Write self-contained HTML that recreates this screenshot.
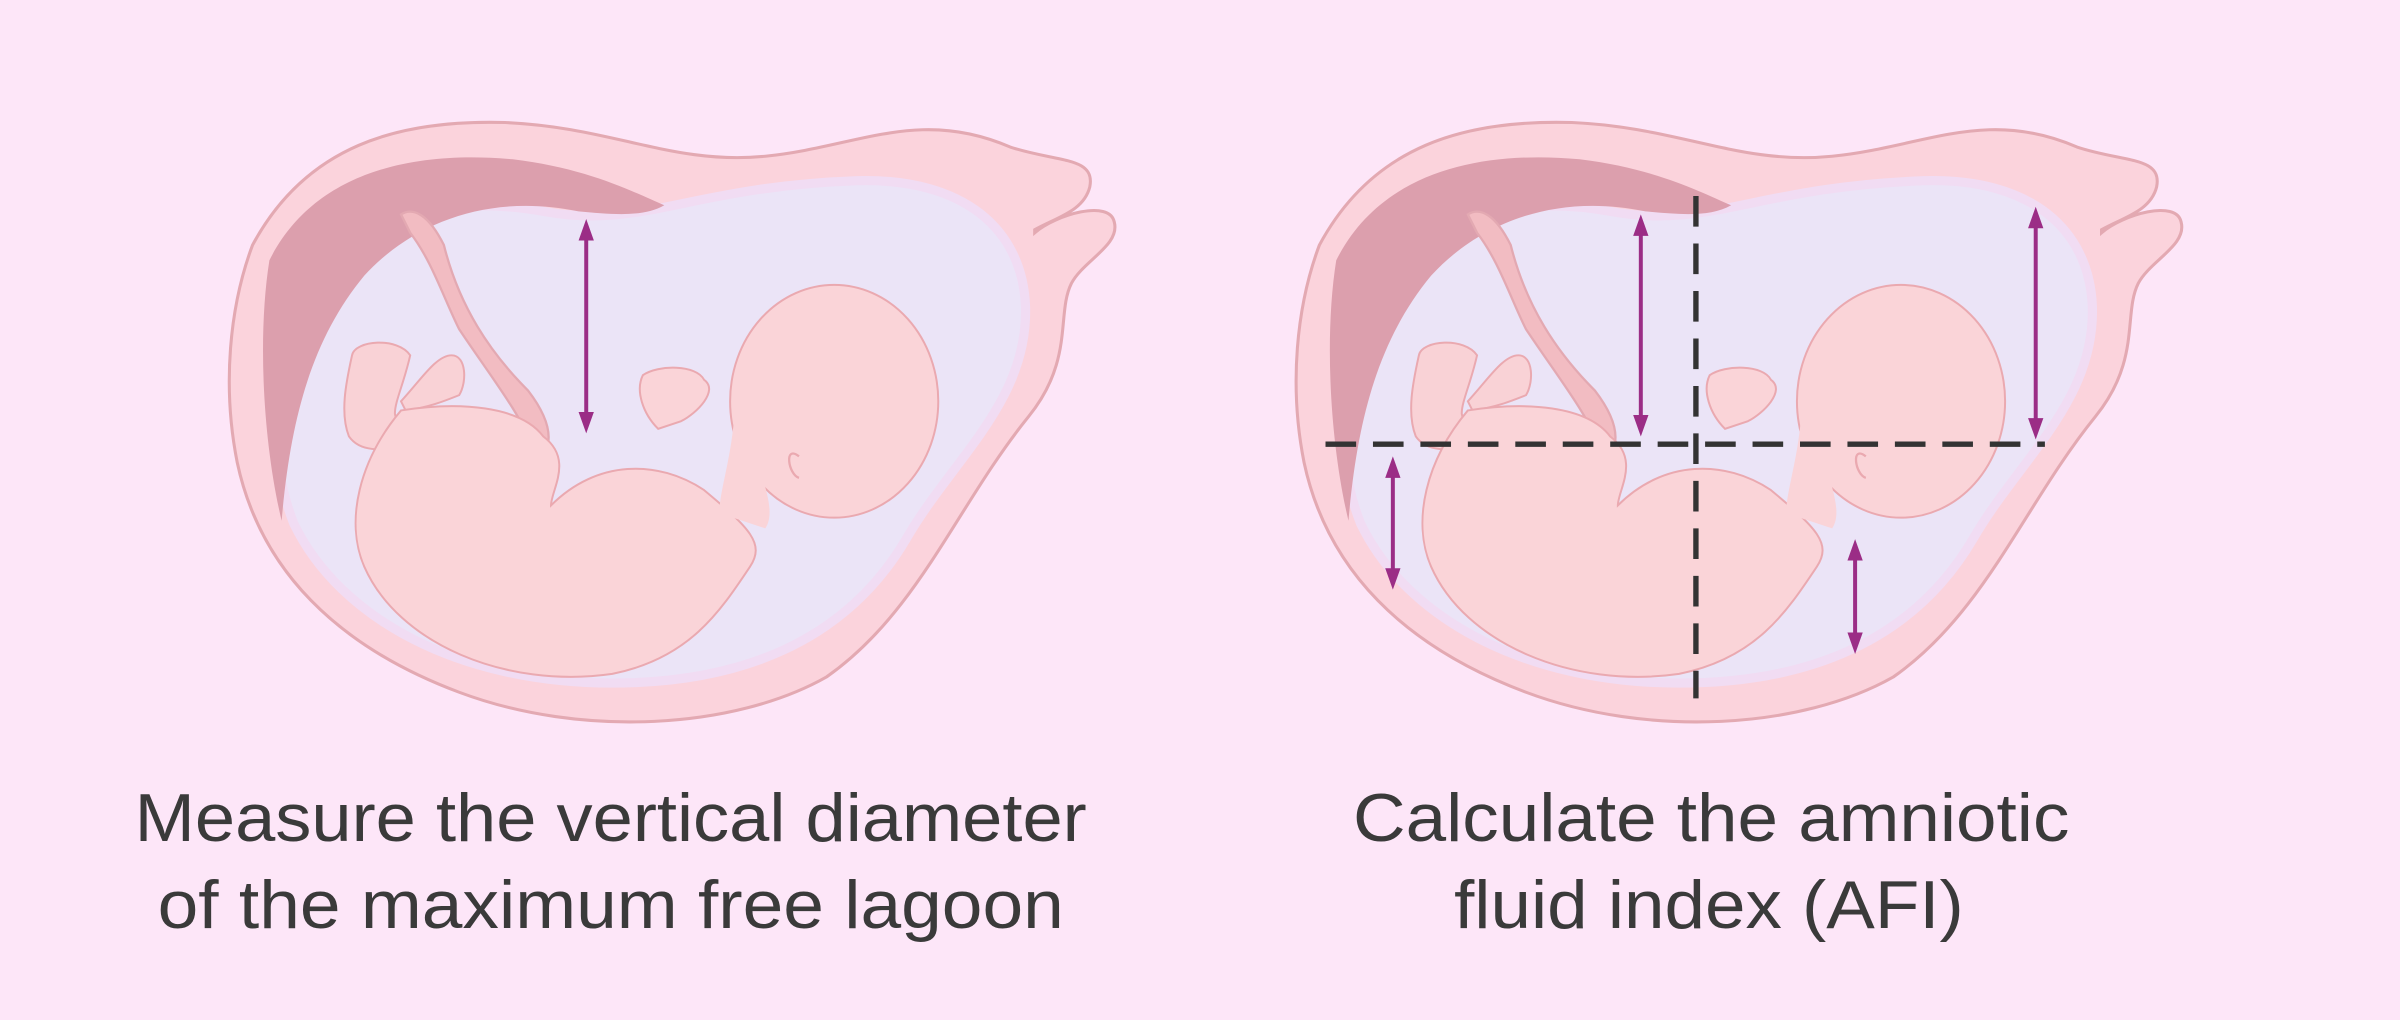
<!DOCTYPE html>
<html><head><meta charset="utf-8"><style>
html,body{margin:0;padding:0;background:#fde6f8;}
svg{display:block}
</style></head><body>
<svg width="2400" height="1020" viewBox="0 0 1568 666" preserveAspectRatio="none" xmlns="http://www.w3.org/2000/svg">
<defs>
<g id="ill">
  <path d="M165,160 C200,95 260,78 330,80 C400,83 440,108 500,102 C560,96 600,70 660,96 C690,106 716,102 712,122 C708,138 690,142 676,150 L676,152 C690,140 725,130 728,145 C732,160 708,170 700,185 C690,205 702,235 672,272 C625,330 600,400 540,442 C480,476 380,482 300,452 C220,422 170,372 155,302 C145,252 150,200 165,160 Z" fill="#fbd3dc" stroke="#e3a9b2" stroke-width="2"/>
  <path d="M183,205 C225,135 300,128 355,138 C420,150 450,122 560,118 C630,116 668,150 670,200 C672,262 622,300 592,352 C552,420 482,446 400,446 C300,446 222,404 192,342 C176,302 175,242 183,205 Z" fill="#ebe4f7" stroke="#f1dcf3" stroke-width="6"/>
  <path d="M176,170 C205,112 270,98 335,104 C385,110 415,126 434,134 C420,142 400,140 378,138 C320,126 270,145 238,180 C205,220 190,270 184,340 C172,290 168,220 176,170 Z" fill="#dc9fad"/>
  <path d="M262,140 C270,135 280,140 290,160 C300,200 320,230 345,255 C355,268 360,280 358,290 L348,292 C340,270 320,245 300,215 C290,195 282,170 268,152 Z" fill="#f2bcc2" stroke="#e3a9b2" stroke-width="1.5"/>
  <path d="M230,232 C232,222 260,220 268,232 C264,250 258,262 258,270 L262,290 C250,295 235,295 228,285 C222,270 226,250 230,232 Z" fill="#f9d2d6" stroke="#eaa9b0" stroke-width="1.3"/>
  <path d="M262,262 C275,248 285,232 295,232 C305,232 305,250 300,258 C290,262 280,266 265,268 Z" fill="#f9d2d6" stroke="#eaa9b0" stroke-width="1.3"/>
  <path d="M262,268 C300,262 340,265 355,285 C375,300 360,320 360,330 C390,300 430,300 460,320 C490,345 500,355 490,370 C470,400 450,430 400,440 C330,450 260,420 238,370 C225,340 235,300 262,268 Z" fill="#fad4d8" stroke="#eaa9b0" stroke-width="1.3"/>
  <path d="M420,245 C430,238 455,238 460,248 C470,255 455,270 445,275 L430,280 C420,270 415,255 420,245 Z" fill="#fad4d8" stroke="#eaa9b0" stroke-width="1.3"/>
  <ellipse cx="545" cy="262" rx="68" ry="76" fill="#fad4d8" stroke="#eaa9b0" stroke-width="1.3"/>
  <path d="M480,268 C478,300 470,320 470,335 L500,345 C510,330 490,300 488,270 Z" fill="#fad4d8"/>
  <path d="M522,298 C512,290 515,310 522,312" fill="none" stroke="#eaa9b0" stroke-width="1.5"/>
</g>
</defs>
<rect width="1568" height="666" fill="#fde6f8"/>
<use href="#ill"/>
<use href="#ill" transform="translate(697,0)"/>

<g stroke="#9b2d86" stroke-width="2.6" fill="#9b2d86">
  <line x1="383" y1="150" x2="383" y2="276"/>
  <path d="M383,143 L378,157 L388,157 Z M383,283 L378,269 L388,269 Z" stroke="none"/>
  <line x1="1072" y1="148" x2="1072" y2="278"/>
  <path d="M1072,140 L1067,154 L1077,154 Z M1072,285 L1067,271 L1077,271 Z" stroke="none"/>
  <line x1="1330" y1="143" x2="1330" y2="280"/>
  <path d="M1330,135 L1325,149 L1335,149 Z M1330,287 L1325,273 L1335,273 Z" stroke="none"/>
  <line x1="910" y1="305" x2="910" y2="378"/>
  <path d="M910,298 L905,312 L915,312 Z M910,385 L905,371 L915,371 Z" stroke="none"/>
  <line x1="1212" y1="359" x2="1212" y2="420"/>
  <path d="M1212,352 L1207,366 L1217,366 Z M1212,427 L1207,413 L1217,413 Z" stroke="none"/>
</g>
<g stroke="#333" stroke-width="3.5" stroke-dasharray="20 11" fill="none">
  <line x1="866" y1="290" x2="1336" y2="290"/>
  <line x1="1108" y1="128" x2="1108" y2="456"/>
</g>

<g font-family="Liberation Sans, sans-serif" font-size="44" fill="#3a3a3a" text-anchor="start">
  <text x="88" y="549" textLength="622" lengthAdjust="spacingAndGlyphs">Measure the vertical diameter</text>
  <text x="103" y="606" textLength="592" lengthAdjust="spacingAndGlyphs">of the maximum free lagoon</text>
  <text x="884" y="549" textLength="468" lengthAdjust="spacingAndGlyphs">Calculate the amniotic</text>
  <text x="950" y="606" textLength="333" lengthAdjust="spacingAndGlyphs">fluid index (AFI)</text>
</g>
</svg>
</body></html>
